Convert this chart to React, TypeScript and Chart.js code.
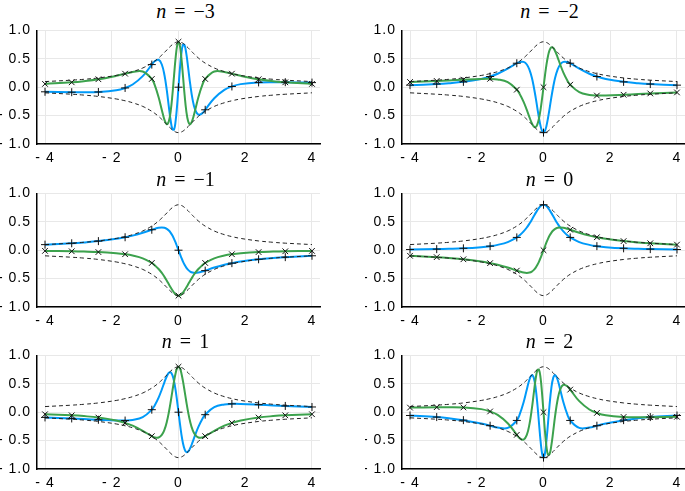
import { useEffect, useRef } from 'react';
import Chart from 'chart.js/auto';

// sample positions (denser near 0, where the curves wiggle)
const xs = [-4, -3.2, -2.836, -2.4, -1.866, -1.6, -1.374, -1.072, -0.8, -0.714, -0.596, -0.5, -0.42, -0.35, -0.289, -0.233, -0.182, -0.134, -0.088, -0.044, 0, 0.044, 0.088, 0.134, 0.182, 0.233, 0.289, 0.35, 0.42, 0.5, 0.596, 0.714, 0.8, 1.072, 1.374, 1.6, 1.866, 2.4, 2.836, 3.2, 4];
const markerXs = [-4, -3.2, -2.4, -1.6, -0.8, 0, 0.8, 1.6, 2.4, 3.2, 4];
const xTicks = [-4, -2, 0, 2, 4];
const yTicks = [-1, -0.5, 0, 0.5, 1];

// dashed envelope
const envelope = [0.099, 0.124, 0.139, 0.163, 0.207, 0.239, 0.274, 0.338, 0.424, 0.459, 0.514, 0.566, 0.613, 0.655, 0.693, 0.725, 0.752, 0.773, 0.788, 0.797, 0.8, 0.797, 0.788, 0.773, 0.752, 0.725, 0.693, 0.655, 0.613, 0.566, 0.514, 0.459, 0.424, 0.338, 0.274, 0.239, 0.207, 0.163, 0.139, 0.124, 0.099];

const blueM3 = [-0.081, -0.088, -0.089, -0.084, -0.054, -0.013, 0.048, 0.194, 0.398, 0.457, 0.483, 0.4, 0.21, -0.057, -0.346, -0.594, -0.74, -0.746, -0.603, -0.337, 0, 0.337, 0.603, 0.746, 0.74, 0.594, 0.346, 0.057, -0.21, -0.4, -0.483, -0.457, -0.398, -0.194, -0.048, 0.013, 0.054, 0.084, 0.089, 0.088, 0.081];
const greenM3 = [0.058, 0.086, 0.106, 0.14, 0.2, 0.238, 0.269, 0.277, 0.145, 0.04, -0.176, -0.4, -0.576, -0.653, -0.6, -0.416, -0.131, 0.2, 0.506, 0.722, 0.8, 0.722, 0.506, 0.2, -0.131, -0.416, -0.6, -0.653, -0.576, -0.4, -0.176, 0.04, 0.145, 0.277, 0.269, 0.238, 0.2, 0.14, 0.106, 0.086, 0.058];

const blueM2 = [0.036, 0.055, 0.069, 0.094, 0.146, 0.188, 0.237, 0.327, 0.422, 0.443, 0.445, 0.4, 0.306, 0.17, 0, -0.188, -0.376, -0.546, -0.682, -0.77, -0.8, -0.77, -0.682, -0.546, -0.376, -0.188, 0, 0.17, 0.306, 0.4, 0.445, 0.443, 0.422, 0.327, 0.237, 0.188, 0.146, 0.094, 0.069, 0.055, 0.036];
const greenM2 = [0.092, 0.11, 0.12, 0.133, 0.146, 0.147, 0.137, 0.088, -0.044, -0.119, -0.257, -0.4, -0.531, -0.633, -0.693, -0.7, -0.651, -0.546, -0.394, -0.206, 0, 0.206, 0.394, 0.546, 0.651, 0.7, 0.693, 0.633, 0.531, 0.4, 0.257, 0.119, 0.044, -0.088, -0.137, -0.147, -0.146, -0.133, -0.12, -0.11, -0.092];

const blueM1 = [0.098, 0.122, 0.137, 0.16, 0.2, 0.228, 0.257, 0.306, 0.36, 0.376, 0.394, 0.4, 0.394, 0.376, 0.346, 0.306, 0.257, 0.2, 0.137, 0.069, 0, -0.069, -0.137, -0.2, -0.257, -0.306, -0.346, -0.376, -0.394, -0.4, -0.394, -0.376, -0.36, -0.306, -0.257, -0.228, -0.2, -0.16, -0.137, -0.122, -0.098];
const greenM1 = [-0.012, -0.019, -0.024, -0.033, -0.054, -0.071, -0.094, -0.143, -0.225, -0.263, -0.331, -0.4, -0.469, -0.537, -0.6, -0.657, -0.706, -0.746, -0.776, -0.794, -0.8, -0.794, -0.776, -0.746, -0.706, -0.657, -0.6, -0.537, -0.469, -0.4, -0.331, -0.263, -0.225, -0.143, -0.094, -0.071, -0.054, -0.033, -0.024, -0.019, -0.012];

const blue0 = [0.012, 0.019, 0.024, 0.033, 0.054, 0.071, 0.094, 0.143, 0.225, 0.263, 0.331, 0.4, 0.469, 0.537, 0.6, 0.657, 0.706, 0.746, 0.776, 0.794, 0.8, 0.794, 0.776, 0.746, 0.706, 0.657, 0.6, 0.537, 0.469, 0.4, 0.331, 0.263, 0.225, 0.143, 0.094, 0.071, 0.054, 0.033, 0.024, 0.019, 0.012];
const green0 = [-0.098, -0.122, -0.137, -0.16, -0.2, -0.228, -0.257, -0.306, -0.36, -0.376, -0.394, -0.4, -0.394, -0.376, -0.346, -0.306, -0.257, -0.2, -0.137, -0.069, 0, 0.069, 0.137, 0.2, 0.257, 0.306, 0.346, 0.376, 0.394, 0.4, 0.394, 0.376, 0.36, 0.306, 0.257, 0.228, 0.2, 0.16, 0.137, 0.122, 0.098];

const blueP1 = [-0.092, -0.11, -0.12, -0.133, -0.146, -0.147, -0.137, -0.088, 0.044, 0.119, 0.257, 0.4, 0.531, 0.633, 0.693, 0.7, 0.651, 0.546, 0.394, 0.206, 0, -0.206, -0.394, -0.546, -0.651, -0.7, -0.693, -0.633, -0.531, -0.4, -0.257, -0.119, -0.044, 0.088, 0.137, 0.147, 0.146, 0.133, 0.12, 0.11, 0.092];
const greenP1 = [-0.036, -0.055, -0.069, -0.094, -0.146, -0.188, -0.237, -0.327, -0.422, -0.443, -0.445, -0.4, -0.306, -0.17, 0, 0.188, 0.376, 0.546, 0.682, 0.77, 0.8, 0.77, 0.682, 0.546, 0.376, 0.188, 0, -0.17, -0.306, -0.4, -0.445, -0.443, -0.422, -0.327, -0.237, -0.188, -0.146, -0.094, -0.069, -0.055, -0.036];

const blueP2 = [-0.058, -0.086, -0.106, -0.14, -0.2, -0.238, -0.269, -0.277, -0.145, -0.04, 0.176, 0.4, 0.576, 0.653, 0.6, 0.416, 0.131, -0.2, -0.506, -0.722, -0.8, -0.722, -0.506, -0.2, 0.131, 0.416, 0.6, 0.653, 0.576, 0.4, 0.176, -0.04, -0.145, -0.277, -0.269, -0.238, -0.2, -0.14, -0.106, -0.086, -0.058];
const greenP2 = [0.081, 0.088, 0.089, 0.084, 0.054, 0.013, -0.048, -0.194, -0.398, -0.457, -0.483, -0.4, -0.21, 0.057, 0.346, 0.594, 0.74, 0.746, 0.603, 0.337, 0, -0.337, -0.603, -0.746, -0.74, -0.594, -0.346, -0.057, 0.21, 0.4, 0.483, 0.457, 0.398, 0.194, 0.048, -0.013, -0.054, -0.084, -0.089, -0.088, -0.081];

const panels = [
  { n: -3, blue: blueM3, green: greenM3 },
  { n: -2, blue: blueM2, green: greenM2 },
  { n: -1, blue: blueM1, green: greenM1 },
  { n: 0, blue: blue0, green: green0 },
  { n: 1, blue: blueP1, green: greenP1 },
  { n: 2, blue: blueP2, green: greenP2 },
];

const BLUE = '#009af9';
const GREEN = '#3ca24d';
const FONT = "'Liberation Sans', Arial, sans-serif";

const fmt = (v: number, digits: number) =>
  v < 0 ? '- ' + Math.abs(v).toFixed(digits) : v.toFixed(digits);

const toPoints = (vals: number[]) => xs.map((x, i) => ({ x, y: vals[i] }));
const toMarkers = (vals: number[]) =>
  xs.map((x, i) => ({ x, y: vals[i] })).filter((p) => markerXs.includes(p.x));

const letterSpacing = {
  id: 'letterSpacing',
  beforeDraw(chart: any) {
    chart.ctx.letterSpacing = '1px';
  },
};

const Panel = ({ n, blue, green, left, top, titleTop }: { n: number; blue: number[]; green: number[]; left: number; top: number; titleTop: number }) => {
  const canvasRef = useRef<HTMLCanvasElement | null>(null);

  useEffect(() => {
    if (!canvasRef.current) return;
    const line = (vals: number[], color: string, order: number) => ({
      data: toPoints(vals),
      showLine: true,
      borderColor: color,
      borderWidth: 2,
      pointRadius: 0,
      tension: 0.4,
      order,
    });
    const dashed = (vals: number[]) => ({
      data: toPoints(vals),
      showLine: true,
      borderColor: '#222',
      borderWidth: 1,
      borderDash: [4, 3],
      pointRadius: 0,
      tension: 0.4,
      order: 1,
    });
    const marks = (vals: number[], style: string) => ({
      data: toMarkers(vals),
      showLine: false,
      pointStyle: style,
      pointRadius: 4,
      pointBorderWidth: 1,
      pointBorderColor: '#111',
      pointBackgroundColor: '#111',
      order: 0,
    });

    const chart = new Chart(canvasRef.current, {
      type: 'scatter',
      data: {
        datasets: [
          marks(blue, 'cross'),
          marks(green, 'crossRot'),
          dashed(envelope),
          dashed(envelope.map((v) => -v)),
          line(green, GREEN, 2),
          line(blue, BLUE, 3),
        ] as any,
      },
      options: {
        animation: false,
        responsive: true,
        maintainAspectRatio: false,
        layout: { padding: { top: 10, right: 10, left: 0, bottom: 0 } },
        plugins: { legend: { display: false }, tooltip: { enabled: false } },
        scales: {
          x: {
            type: 'linear',
            min: -4.24,
            max: 4.24,
            afterBuildTicks: (s: any) => {
              s.ticks = xTicks.map((value) => ({ value }));
            },
            afterFit: (s: any) => {
              s.height = 25;
            },
            grid: { color: '#e8e8e8', drawTicks: false },
            border: { color: '#000', width: 1.5 },
            ticks: {
              padding: 6,
              color: '#000',
              maxRotation: 0,
              font: { family: FONT, size: 14 },
              callback: (v: any) => fmt(Number(v), 0),
            },
          },
          y: {
            type: 'linear',
            min: -1,
            max: 1,
            afterBuildTicks: (s: any) => {
              s.ticks = yTicks.map((value) => ({ value }));
            },
            afterFit: (s: any) => {
              s.width = 37;
            },
            grid: { color: '#e8e8e8', drawTicks: false },
            border: { color: '#000', width: 1.5 },
            ticks: {
              padding: 6,
              color: '#000',
              font: { family: FONT, size: 14 },
              callback: (v: any) => fmt(Number(v), 1),
            },
          },
        },
      } as any,
      plugins: [letterSpacing],
    });

    return () => {
      chart.destroy();
    };
  }, [blue, green]);

  const centerX = left < 100 ? 185.5 : 549.5;
  return (
    <>
      <div
        style={{
          position: 'absolute',
          left: centerX - 60,
          top: titleTop,
          width: 120,
          textAlign: 'center',
          fontFamily: "'Liberation Serif', serif",
          fontSize: 20,
          lineHeight: '20px',
          color: '#000',
          whiteSpace: 'nowrap',
        }}
      >
        <span style={{ fontStyle: 'italic' }}>n</span>
        <span style={{ margin: '0 8px' }}>=</span>
        {n < 0 ? '\u2212' + Math.abs(n) : String(n)}
      </div>
      <div style={{ position: 'absolute', left, top, width: 330, height: 153 }}>
        <canvas ref={canvasRef} />
      </div>
    </>
  );
};

const rowTops = [16, 179, 341];
const titleTops = [0.5, 169.3, 331];
const colLefts = [0, 365];

export default function App() {
  return (
    <div
      style={{
        position: 'absolute',
        left: 0,
        top: 0,
        width: 685,
        height: 491,
        overflow: 'hidden',
        background: '#fff',
      }}
    >
      {panels.map((p, i) => (
        <Panel
          key={p.n}
          n={p.n}
          blue={p.blue}
          green={p.green}
          left={colLefts[i % 2]}
          top={rowTops[Math.floor(i / 2)]}
          titleTop={titleTops[Math.floor(i / 2)]}
        />
      ))}
    </div>
  );
}
